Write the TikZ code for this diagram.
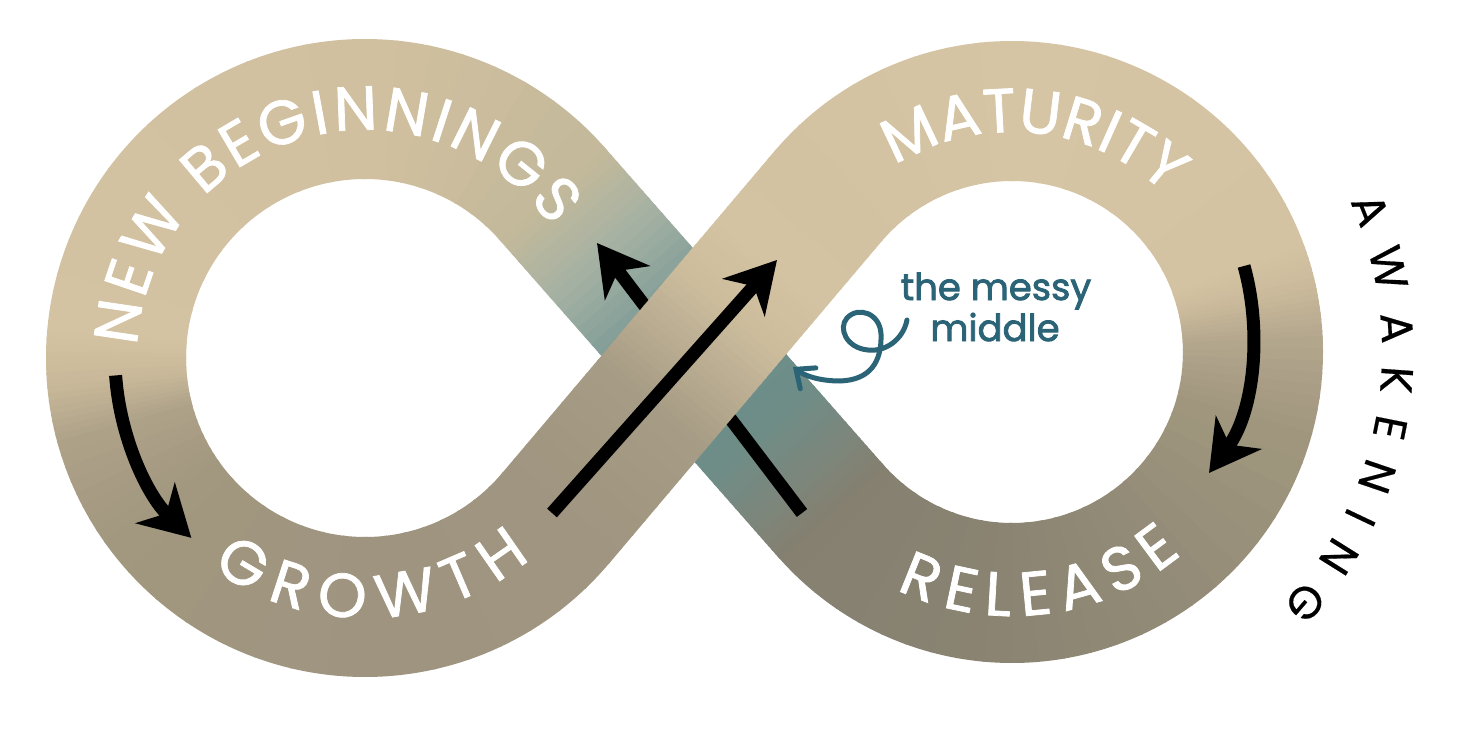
\documentclass[tikz,border=0pt]{standalone}
\usepackage{fontspec}
\usetikzlibrary{calc,arrows.meta,decorations.text}
\newfontfamily\labfont{Poppins}[FakeBold=1.2]
\newfontfamily\plainfont{Poppins}[FakeBold=0.4]
\newfontfamily\messyfont{Poppins}[FakeBold=2.2]
\newcommand\lblsize{\labfont\fontsize{62pt}{64pt}\selectfont}
\newcommand\awksize{\plainfont\fontsize{45pt}{47pt}\selectfont}
% left loop colours
\definecolor{lA}{HTML}{C4B99B}
\definecolor{lB}{HTML}{D1C09F}
\definecolor{lC}{HTML}{D3C3A2}
\definecolor{lD}{HTML}{C8B899}
\definecolor{lE}{HTML}{AEA289}
\definecolor{lF}{HTML}{A2987F}
\definecolor{lG}{HTML}{9E9480}
\definecolor{lH}{HTML}{9F9580}
% right loop colours
\definecolor{rA}{HTML}{D3C2A1}
\definecolor{rB}{HTML}{D6C5A4}
\definecolor{rC}{HTML}{D4C3A2}
\definecolor{rD}{HTML}{C9B99B}
\definecolor{rE}{HTML}{B3A78D}
\definecolor{rF}{HTML}{A1977F}
\definecolor{rG}{HTML}{918A76}
\definecolor{rH}{HTML}{898372}
\definecolor{rI}{HTML}{858070}
% under strand
\definecolor{uA}{HTML}{C4B99B}
\definecolor{uB}{HTML}{A6B2A3}
\definecolor{uC}{HTML}{7E9C97}
\definecolor{uD}{HTML}{6C8F8B}
\definecolor{uE}{HTML}{6E8D87}
\definecolor{uF}{HTML}{7D867B}
\definecolor{uG}{HTML}{858070}
% over strand
\definecolor{oA}{HTML}{9F9580}
\definecolor{oB}{HTML}{A69B84}
\definecolor{oC}{HTML}{B9AC91}
\definecolor{oD}{HTML}{CDBD9D}
\definecolor{oE}{HTML}{D4C3A2}
\definecolor{oF}{HTML}{D3C2A1}
\definecolor{messy}{HTML}{2B6377}
\tikzset{
  band/.style={line width=140pt, line cap=butt},
  flow/.style={line width=13pt, draw=black, -{Stealth[length=50pt,width=56pt,inset=15pt]}},
}
\begin{document}
\begin{tikzpicture}[x=1pt,y=-1pt]
\useasboundingbox (0,0) rectangle (1462,733);
\fill[white] (0,0) rectangle (1462,733);
\coordinate (L) at (365,358);
\coordinate (R) at (1012,352);
\coordinate (TLu) at (552.0,193.6);
\coordinate (TLd) at (555.1,518.9);
\coordinate (TRu) at (827.9,196.4);
\coordinate (TRd) at (830.9,511.1);
% left loop
\foreach \aa/\ab/\ca/\cb in {-41.31/-90/lA/lB,-90/-175/lB/lC,-175/-185/lC/lD,-185/-195/lD/lE,-195/-215/lE/lF,-215/-270/lF/lG,-270/-319.75/lG/lH}{
  \foreach \j in {0,...,7}{
    \pgfmathsetmacro\sa{(\aa)+((\ab)-(\aa))*\j/8}
    \pgfmathsetmacro\sb{(\aa)+((\ab)-(\aa))*(\j+1)/8-0.6}
    \pgfmathtruncatemacro\p{\j*12.5+6}
    \draw[band,draw=\cb!\p!\ca] ($(L)+(\sa:249)$) arc[start angle=\sa,end angle=\sb,radius=249];
  }
}
% right loop
\foreach \aa/\ab/\ca/\cb in {220.23/270/rA/rB,270/340/rB/rC,340/348/rC/rD,348/357/rD/rE,357/375/rE/rF,375/420/rF/rG,420/460/rG/rH,460/498.69/rH/rI}{
  \foreach \j in {0,...,7}{
    \pgfmathsetmacro\sa{(\aa)+((\ab)-(\aa))*\j/8}
    \pgfmathsetmacro\sb{(\aa)+((\ab)-(\aa))*(\j+1)/8+0.6}
    \pgfmathtruncatemacro\p{\j*12.5+6}
    \draw[band,draw=\cb!\p!\ca] ($(R)+(\sa:241)$) arc[start angle=\sa,end angle=\sb,radius=241];
  }
}
% under strand
\draw[band,draw=uA] ($(TLu)!-0.006!(TRd)$) -- ($(TLu)!0.01!(TRd)$);
\foreach \ta/\tb/\ca/\cb in {0/0.18/uA/uB,0.18/0.38/uB/uC,0.38/0.55/uC/uD,0.55/0.75/uD/uE,0.75/0.9/uE/uF,0.9/1/uF/uG}{
  \foreach \j in {0,...,7}{
    \pgfmathsetmacro\sa{\ta+(\tb-\ta)*\j/8}
    \pgfmathsetmacro\sb{\ta+(\tb-\ta)*(\j+1)/8+0.005}
    \pgfmathtruncatemacro\p{\j*12.5+6}
    \draw[band,draw=\cb!\p!\ca] ($(TLu)!\sa!(TRd)$) -- ($(TLu)!\sb!(TRd)$);
  }
}
% under arrow
\coordinate (ua0) at (802,513);
\coordinate (ua1) at (597,243);
\draw[flow] (ua0) -- (ua1);
% over strand
\foreach \ta/\tb/\ca/\cb in {0/0.35/oA/oB,0.35/0.5/oB/oC,0.5/0.65/oC/oD,0.65/0.8/oD/oE,0.8/1/oE/oF}{
  \foreach \j in {0,...,7}{
    \pgfmathsetmacro\sa{\ta+(\tb-\ta)*\j/8}
    \pgfmathsetmacro\sb{\ta+(\tb-\ta)*(\j+1)/8+0.005}
    \pgfmathtruncatemacro\p{\j*12.5+6}
    \draw[band,draw=\cb!\p!\ca] ($(TLd)!\sa!(TRu)$) -- ($(TLd)!\sb!(TRu)$);
  }
}
% over arrow
\coordinate (oa0) at (552,513);
\coordinate (oa1) at (777,260);
\draw[flow] (oa0) -- (oa1);
% loop arrows
\coordinate (la0) at ($(L)+(176:250)$);
\draw[flow] (la0) arc[start angle=176,end angle=134,radius=250];
\coordinate (ra0) at (1244,266);
\coordinate (ra1) at (1209,473);
\draw[flow] (ra0) .. controls (1262,330) and (1255,410) .. (ra1);
% band labels
\path[decorate,decoration={text along path,text color=white,text align={fit to path},text={|\lblsize|NEW BEGINNINGS}}]
  ($(L)+(-177:228)$) arc[start angle=-177,end angle=-35,radius=228];
\path[decorate,decoration={text along path,text color=white,text align={fit to path},text={|\lblsize|GROWTH}}]
  ($(L)+(126:260)$) arc[start angle=126,end angle=50.5,radius=260];
\path[decorate,decoration={text along path,text color=white,text align=center,text={|\lblsize|MATURITY}}]
  ($(R)+(226:220)$) arc[start angle=226,end angle=326,radius=220];
\path[decorate,decoration={text along path,text color=white,text align={fit to path},text={|\lblsize|RELEASE}}]
  ($(R)+(116:264)$) arc[start angle=116,end angle=50,radius=264];
\path[decorate,decoration={text along path,text color=black,text align={fit to path},text={|\awksize|AWAKENING}}]
  ($(R)+(336:370)$) arc[start angle=336,end angle=403.2,radius=370];
% the messy middle
\node[anchor=base, text=messy, font=\messyfont\fontsize{37pt}{39pt}\selectfont, inner sep=0pt] (m1) at (996,300) {the messy};
\node[anchor=base, text=messy, font=\messyfont\fontsize{37pt}{39pt}\selectfont, inner sep=0pt] (m2) at (995,341) {middle};
\coordinate (c0) at (907,320);
\coordinate (c1) at (793,367);
\draw[messy, line width=5pt, line cap=round, -{Straight Barb[length=15pt,width=26pt,line cap=round]}]
  (c0) .. controls (903,340) and (885,352) .. (868,350)
  .. controls (846,348) and (838,328) .. (847,318)
  .. controls (858,306) and (880,313) .. (881,334)
  .. controls (882,362) and (870,380) .. (840,381)
  .. controls (820,381) and (805,376) .. (c1);
\end{tikzpicture}
\end{document}
